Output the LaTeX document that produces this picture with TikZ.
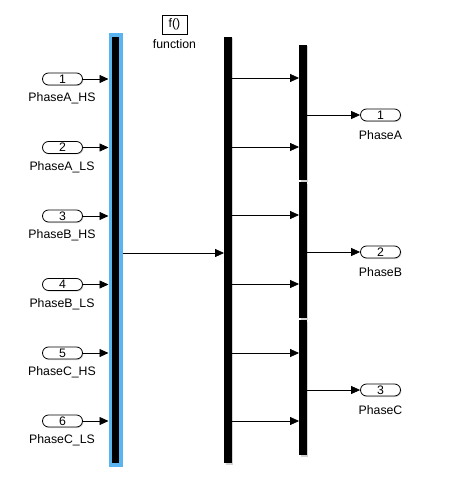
\documentclass[tikz,border=0pt]{standalone}
\usepackage{fontspec}
\setmainfont{Liberation Sans}
\usetikzlibrary{arrows.meta,shadows}
\definecolor{hl}{RGB}{90,180,240}
\begin{document}
\begin{tikzpicture}[x=1pt,y=-1pt,
  every node/.style={font=\fontsize{12.3}{14}\selectfont},
  bar/.style={rectangle,fill=black,draw=none,inner sep=0pt,minimum width=7.5pt,
    drop shadow={shadow xshift=1.5pt,shadow yshift=-1.5pt,opacity=0.35,fill=gray}},
  port/.style={rectangle,rounded corners=6pt,draw=black,line width=0.8pt,fill=white,
    minimum width=40pt,minimum height=12pt,inner sep=0pt,
    drop shadow={shadow xshift=1pt,shadow yshift=-1pt,opacity=0.3,fill=gray}},
  lbl/.style={inner sep=0pt},
  sig/.style={line width=0.7pt,-{Triangle[length=9pt,width=8pt]}}]
\useasboundingbox (0,0) rectangle (461,481);
% mux
\node[rectangle,fill=black,draw=hl,line width=3.5pt,minimum width=10.5pt,minimum height=430pt,inner sep=0pt] (mux) at (115.5,250) {};
% demux
\node[bar,minimum height=426pt] (dmx) at (228,250) {};
% right buses
\node[bar,minimum height=135pt] (b1) at (303,112.5) {};
\node[bar,minimum height=136pt] (b2) at (303,250) {};
\node[bar,minimum height=135pt] (b3) at (303,387.5) {};
% function block
\node[rectangle,draw=black,line width=0.8pt,minimum width=25pt,minimum height=19pt,inner sep=0pt,fill=white,
  drop shadow={shadow xshift=1pt,shadow yshift=-1pt,opacity=0.3,fill=gray}] (fb) at (174.5,24.5) {f()};
\node[lbl] (fbl) at (174.5,44) {function};
% inports
\foreach \i/\y/\t in {1/79/PhaseA\_HS,2/147.5/PhaseA\_LS,3/216/PhaseB\_HS,4/284.5/PhaseB\_LS,5/353/PhaseC\_HS,6/421/PhaseC\_LS}{
  \node[port] (in\i) at (62.5,\y) {\i};
  \node[lbl] (inl\i) at (62,\y+19.5) {\t};
  \draw[sig] (in\i.east) -- (in\i.east -| mux.west);
}
% mux to demux
\coordinate (m) at (119,253);
\draw[sig] (m -| mux.east) -- (m -| dmx.west);
% demux outputs
\foreach \y/\b in {78/b1,147/b1,215/b2,284/b2,353/b3,421/b3}{
  \coordinate (c\y) at (230,\y);
  \draw[sig] (c\y -| dmx.east) -- (c\y -| \b.west);
}
% outports
\foreach \i/\y/\t in {1/115/PhaseA,2/252/PhaseB,3/390/PhaseC}{
  \node[port] (out\i) at (380.5,\y) {\i};
  \node[lbl] (outl\i) at (380.5,\y+20) {\t};
  \draw[sig] (out\i.west -| b\i.east) -- (out\i.west);
}
\end{tikzpicture}
\end{document}
